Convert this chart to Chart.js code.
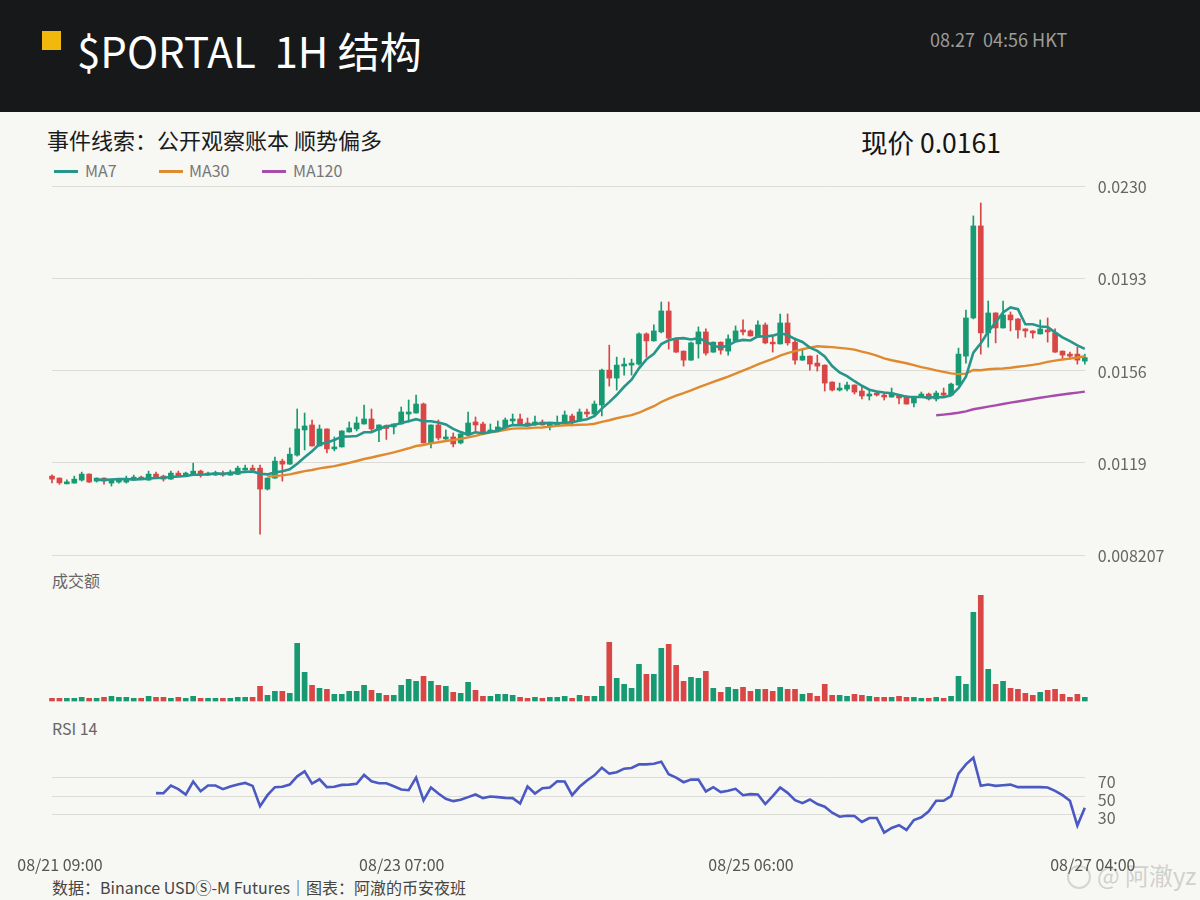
<!DOCTYPE html>
<html lang="zh-CN">
<head>
<meta charset="utf-8">
<title>$PORTAL 1H 结构</title>
<script src="https://cdn.jsdelivr.net/npm/chart.js@4.4.1/dist/chart.umd.min.js"></script>
<style>
  html, body { margin: 0; padding: 0; }
  body {
    width: 1200px; height: 900px; position: relative; overflow: hidden;
    background: #f7f7f3;
    font-family: "Noto Sans CJK SC", "Noto Sans", sans-serif;
  }
  .abs { position: absolute; line-height: 1; white-space: pre; }
  #header { left: 0; top: 0; width: 1200px; height: 112px; background: #161819; }
  #mark { left: 42px; top: 31px; width: 19px; height: 19px; background: #f0b90b; }
  #title { left: 77px; top: 29px; font-size: 42px; color: #ffffff; }
  #stamp { left: 930px; top: 30px; font-size: 18px; color: #9c9c9c; }
  #subtitle { left: 47px; top: 128px; font-size: 22px; color: #1b1b1b; }
  #price { left: 861px; top: 129px; font-size: 26.5px; color: #141414; }
  .sw { position: absolute; top: 170px; width: 24px; height: 3px; }
  .lg { top: 162px; font-size: 16px; color: #777; }
  #volLabel { left: 52px; top: 572px; font-size: 16px; color: #666; }
  #rsiLabel { left: 52px; top: 720px; font-size: 16px; color: #666; }
  #footer { left: 52px; top: 879px; font-size: 16px; color: #444; }
  #wm { left: 1097px; top: 863px; font-size: 24px; color: rgba(170,170,170,0.5); }
  #wmIcon { position: absolute; left: 1067px; top: 865px; width: 20px; height: 20px; border: 2px solid rgba(170,170,170,0.45); border-radius: 50%; }
  canvas { position: absolute; left: 0; }
</style>
</head>
<body>
<div id="header" class="abs"></div>
<div id="mark" class="abs"></div>
<div id="title" class="abs">$PORTAL  1H 结构</div>
<div id="stamp" class="abs">08.27  04:56 HKT</div>
<div id="subtitle" class="abs">事件线索：公开观察账本 顺势偏多</div>
<div id="price" class="abs">现价 0.0161</div>

<div class="sw" style="left:54px;background:#26968a"></div>
<div class="abs lg" style="left:85px">MA7</div>
<div class="sw" style="left:159px;background:#e08a2f"></div>
<div class="abs lg" style="left:189px">MA30</div>
<div class="sw" style="left:262px;background:#a64dab"></div>
<div class="abs lg" style="left:293px">MA120</div>

<div id="volLabel" class="abs">成交额</div>
<div id="rsiLabel" class="abs">RSI 14</div>
<div id="footer" class="abs">数据：Binance USDⓈ-M Futures｜图表：阿澈的币安夜班</div>
<div id="wmIcon"></div>
<div id="wm" class="abs">@ 阿澈yz</div>

<canvas id="priceChart" width="1200" height="390" style="top:176px;width:1200px;height:390px"></canvas>
<canvas id="volChart" width="1200" height="120" style="top:585px;width:1200px;height:120px"></canvas>
<canvas id="rsiChart" width="1200" height="140" style="top:740px;width:1200px;height:140px"></canvas>

<script>
// hourly candles, 08/21 09:00 -> 08/27 04:00
const hours = [];
for (let i = 0; i < 140; i++) {
    const h = 9 + i;
    hours.push('08/' + (21 + Math.floor(h / 24)) + ' ' + String(h % 24).padStart(2, '0') + ':00');
}
const xTickLabels = ['08/21 09:00', '08/23 07:00', '08/25 06:00', '08/27 04:00'];

const opens = [
    0.01137, 0.01129, 0.01106, 0.01109, 0.01121, 0.01145, 0.01117, 0.01129, 0.01109, 0.01113,
    0.01113, 0.01121, 0.01133, 0.01121, 0.01145, 0.01137, 0.01125, 0.01149, 0.01137, 0.01145,
    0.01157, 0.01141, 0.01141, 0.01149, 0.01141, 0.01144, 0.01161, 0.01169, 0.01169, 0.01085,
    0.01129, 0.01197, 0.01185, 0.01221, 0.01322, 0.01342, 0.01258, 0.01326, 0.01246, 0.01254,
    0.01314, 0.01326, 0.01346, 0.01366, 0.01322, 0.01340, 0.01334, 0.01346, 0.01386, 0.01390,
    0.01426, 0.01270, 0.01342, 0.01286, 0.01294, 0.01270, 0.01302, 0.01354, 0.01346, 0.01314,
    0.01322, 0.01330, 0.01358, 0.01366, 0.01350, 0.01342, 0.01354, 0.01334, 0.01342, 0.01350,
    0.01378, 0.01358, 0.01394, 0.01386, 0.01422, 0.01562, 0.01530, 0.01578, 0.01582, 0.01586,
    0.01707, 0.01679, 0.01715, 0.01799, 0.01683, 0.01638, 0.01602, 0.01667, 0.01715, 0.01634,
    0.01674, 0.01638, 0.01679, 0.01723, 0.01719, 0.01694, 0.01743, 0.01674, 0.01667, 0.01751,
    0.01674, 0.01602, 0.01618, 0.01590, 0.01582, 0.01514, 0.01482, 0.01486, 0.01502, 0.01478,
    0.01458, 0.01470, 0.01462, 0.01454, 0.01462, 0.01458, 0.01430, 0.01454, 0.01466, 0.01446,
    0.01470, 0.01462, 0.01502, 0.01618, 0.01771, 0.02140, 0.01711, 0.01791, 0.01731, 0.01783,
    0.01767, 0.01727, 0.01719, 0.01707, 0.01723, 0.01711, 0.01638, 0.01626, 0.01626, 0.01598
];
const highs = [
    0.01142, 0.01130, 0.01122, 0.01137, 0.01153, 0.01146, 0.01130, 0.01130, 0.01122, 0.01126,
    0.01137, 0.01141, 0.01137, 0.01157, 0.01153, 0.01141, 0.01157, 0.01157, 0.01153, 0.01189,
    0.01161, 0.01153, 0.01157, 0.01157, 0.01161, 0.01177, 0.01181, 0.01181, 0.01181, 0.01130,
    0.01213, 0.01205, 0.01250, 0.01406, 0.01390, 0.01362, 0.01342, 0.01327, 0.01294, 0.01319,
    0.01354, 0.01374, 0.01422, 0.01406, 0.01343, 0.01342, 0.01347, 0.01414, 0.01442, 0.01462,
    0.01430, 0.01343, 0.01362, 0.01322, 0.01310, 0.01307, 0.01394, 0.01374, 0.01354, 0.01346,
    0.01358, 0.01370, 0.01386, 0.01386, 0.01370, 0.01378, 0.01362, 0.01347, 0.01378, 0.01398,
    0.01386, 0.01406, 0.01406, 0.01438, 0.01566, 0.01662, 0.01614, 0.01610, 0.01606, 0.01711,
    0.01711, 0.01743, 0.01835, 0.01835, 0.01690, 0.01639, 0.01674, 0.01735, 0.01727, 0.01675,
    0.01675, 0.01703, 0.01739, 0.01763, 0.01723, 0.01759, 0.01751, 0.01703, 0.01787, 0.01787,
    0.01690, 0.01642, 0.01619, 0.01622, 0.01583, 0.01515, 0.01510, 0.01514, 0.01503, 0.01494,
    0.01486, 0.01478, 0.01470, 0.01490, 0.01463, 0.01459, 0.01451, 0.01474, 0.01470, 0.01478,
    0.01490, 0.01510, 0.01650, 0.01803, 0.02180, 0.02232, 0.01839, 0.01792, 0.01839, 0.01795,
    0.01768, 0.01728, 0.01720, 0.01763, 0.01771, 0.01727, 0.01639, 0.01634, 0.01654, 0.01626
];
const lows = [
    0.01110, 0.01104, 0.01106, 0.01109, 0.01117, 0.01112, 0.01113, 0.01105, 0.01097, 0.01109,
    0.01109, 0.01120, 0.01124, 0.01120, 0.01129, 0.01117, 0.01124, 0.01136, 0.01136, 0.01144,
    0.01133, 0.01140, 0.01140, 0.01137, 0.01140, 0.01143, 0.01160, 0.01153, 0.00904, 0.01081,
    0.01128, 0.01117, 0.01184, 0.01217, 0.01242, 0.01257, 0.01257, 0.01230, 0.01238, 0.01253,
    0.01313, 0.01318, 0.01345, 0.01318, 0.01275, 0.01284, 0.01306, 0.01345, 0.01354, 0.01389,
    0.01269, 0.01250, 0.01282, 0.01278, 0.01254, 0.01266, 0.01301, 0.01314, 0.01313, 0.01313,
    0.01321, 0.01329, 0.01342, 0.01345, 0.01337, 0.01341, 0.01341, 0.01322, 0.01338, 0.01349,
    0.01338, 0.01357, 0.01374, 0.01382, 0.01378, 0.01498, 0.01482, 0.01542, 0.01542, 0.01582,
    0.01614, 0.01678, 0.01711, 0.01646, 0.01633, 0.01578, 0.01601, 0.01610, 0.01622, 0.01633,
    0.01626, 0.01622, 0.01678, 0.01703, 0.01698, 0.01693, 0.01667, 0.01634, 0.01666, 0.01662,
    0.01586, 0.01601, 0.01562, 0.01558, 0.01478, 0.01478, 0.01478, 0.01478, 0.01466, 0.01446,
    0.01442, 0.01458, 0.01442, 0.01453, 0.01426, 0.01425, 0.01414, 0.01453, 0.01442, 0.01438,
    0.01458, 0.01461, 0.01501, 0.01590, 0.01767, 0.01626, 0.01654, 0.01671, 0.01730, 0.01719,
    0.01690, 0.01694, 0.01690, 0.01706, 0.01674, 0.01633, 0.01606, 0.01606, 0.01586, 0.01586
];
const closes = [
    0.01125, 0.01110, 0.01114, 0.01125, 0.01145, 0.01113, 0.01129, 0.01117, 0.01121, 0.01125,
    0.01125, 0.01133, 0.01125, 0.01145, 0.01133, 0.01125, 0.01149, 0.01137, 0.01149, 0.01157,
    0.01145, 0.01149, 0.01149, 0.01141, 0.01153, 0.01169, 0.01169, 0.01161, 0.01085, 0.01129,
    0.01197, 0.01185, 0.01225, 0.01326, 0.01338, 0.01258, 0.01326, 0.01246, 0.01254, 0.01318,
    0.01330, 0.01350, 0.01366, 0.01326, 0.01342, 0.01328, 0.01346, 0.01394, 0.01394, 0.01426,
    0.01270, 0.01342, 0.01290, 0.01294, 0.01266, 0.01306, 0.01350, 0.01342, 0.01314, 0.01322,
    0.01334, 0.01362, 0.01366, 0.01346, 0.01338, 0.01354, 0.01342, 0.01346, 0.01350, 0.01382,
    0.01354, 0.01394, 0.01386, 0.01426, 0.01562, 0.01530, 0.01582, 0.01586, 0.01590, 0.01707,
    0.01679, 0.01719, 0.01799, 0.01690, 0.01634, 0.01602, 0.01671, 0.01715, 0.01630, 0.01674,
    0.01642, 0.01687, 0.01719, 0.01715, 0.01699, 0.01743, 0.01671, 0.01667, 0.01751, 0.01671,
    0.01602, 0.01618, 0.01586, 0.01578, 0.01510, 0.01482, 0.01490, 0.01502, 0.01474, 0.01458,
    0.01466, 0.01462, 0.01454, 0.01470, 0.01450, 0.01426, 0.01450, 0.01466, 0.01446, 0.01470,
    0.01462, 0.01506, 0.01626, 0.01771, 0.02140, 0.01711, 0.01791, 0.01731, 0.01783, 0.01763,
    0.01723, 0.01719, 0.01711, 0.01727, 0.01715, 0.01634, 0.01622, 0.01618, 0.01602, 0.01612
];
// 成交额 (relative units)
const turnover = [
    27, 27, 27, 27, 37, 27, 27, 37, 47, 37,
    37, 27, 27, 47, 37, 37, 27, 37, 27, 47,
    27, 27, 27, 27, 27, 37, 37, 37, 147, 57,
    97, 97, 77, 577, 287, 157, 127, 117, 67, 67,
    97, 97, 157, 107, 77, 57, 57, 157, 217, 197,
    247, 197, 157, 147, 87, 77, 187, 107, 47, 47,
    67, 67, 57, 37, 27, 37, 27, 37, 37, 47,
    27, 57, 47, 47, 147, 587, 227, 167, 127, 367,
    267, 267, 527, 567, 357, 197, 237, 227, 297, 127,
    87, 137, 117, 137, 97, 117, 117, 97, 137, 117,
    117, 67, 77, 47, 167, 57, 57, 47, 67, 57,
    47, 37, 37, 37, 47, 37, 37, 27, 27, 37,
    27, 47, 247, 167, 887, 1057, 317, 167, 197, 127,
    117, 77, 57, 87, 107, 117, 67, 37, 67, 37
];
const rsi14 = [
    null, null, null, null, null, null, null, null, null, null,
    null, null, null, null, 53.1, 53.0, 61.4, 57.4, 51.6, 65.7,
    55.2, 61.4, 61.4, 57.4, 60.3, 62.4, 64.2, 61.0, 39.0, 50.9,
    59.6, 60.0, 62.4, 71.4, 76.8, 63.5, 68.2, 59.6, 60.0, 62.1,
    62.4, 63.2, 72.9, 66.0, 63.9, 63.9, 60.6, 57.0, 56.3, 70.0,
    45.2, 59.2, 52.7, 47.0, 44.4, 45.9, 48.8, 51.6, 47.7, 49.5,
    48.8, 48.0, 47.7, 41.9, 60.3, 52.7, 58.5, 59.2, 66.0, 65.7,
    50.9, 60.0, 66.8, 72.5, 80.8, 74.3, 75.8, 79.7, 80.4, 84.4,
    84.4, 85.1, 87.3, 73.6, 70.0, 65.0, 67.8, 67.8, 54.9, 59.6,
    54.2, 55.6, 57.8, 50.9, 52.0, 51.6, 41.2, 49.8, 59.2, 53.4,
    45.5, 42.3, 46.2, 41.2, 38.3, 31.8, 27.5, 28.6, 28.2, 21.8,
    26.1, 26.1, 10.2, 15.3, 18.2, 13.1, 23.9, 26.8, 33.3, 44.8,
    44.8, 49.8, 74.3, 84.4, 91.6, 61.0, 62.4, 61.0, 61.7, 62.4,
    59.6, 59.6, 59.6, 59.6, 59.2, 55.6, 50.9, 44.8, 17.8, 37.2
];

const priceTicks = [0.008207, 0.011905, 0.015604, 0.019302, 0.0230];
const priceTickLabels = ['0.008207', '0.0119', '0.0156', '0.0193', '0.0230'];
const rsiTicks = [30, 50, 70];

const UP = '#179a72';
const DOWN = '#d94646';
const GRID = '#dcdcd6';
const AXIS_W = 115.2;

Chart.defaults.font.family = '"Noto Sans CJK SC", "Noto Sans", sans-serif';
Chart.defaults.animation = false;

// moving average of closes, null until the window is full
function sma(values, n) {
    return values.map((_, i) => {
        if (i < n - 1) return null;
        let s = 0;
        for (let k = i - n + 1; k <= i; k++) s += values[k];
        return s / n;
    });
}

// keep the plot areas exactly where the layout padding puts them
function fixWidth(s) {
    s.width = AXIS_W;
    s.paddingTop = 0;
    s.paddingBottom = 0;
}

const candleColors = closes.map((c, i) => (c >= opens[i] ? UP : DOWN));

const baseX = { display: false, offset: false, grid: { display: false } };

// price panel
new Chart(document.getElementById('priceChart'), {
    type: 'bar',
    data: {
        labels: hours,
        datasets: [
            { type: 'line', label: 'MA7', data: sma(closes, 7), borderColor: '#26968a', borderWidth: 2.6, pointRadius: 0, order: 0, clip: false },
            { type: 'line', label: 'MA30', data: sma(closes, 30), borderColor: '#e08a2f', borderWidth: 2.4, pointRadius: 0, order: 0, clip: false },
            { type: 'line', label: 'MA120', data: sma(closes, 120), borderColor: '#a64dab', borderWidth: 2.4, pointRadius: 0, order: 0, clip: false },
            { label: 'body', data: opens.map((o, i) => [o, closes[i]]), backgroundColor: candleColors, barThickness: 5, grouped: false, order: 1, clip: false },
            { label: 'wick', data: lows.map((l, i) => [l, highs[i]]), backgroundColor: candleColors, barThickness: 1, grouped: false, order: 2, clip: false }
        ]
    },
    options: {
        responsive: false,
        layout: { padding: { left: 52, right: 0, top: 10, bottom: 11 } },
        plugins: { legend: { display: false }, tooltip: { enabled: false } },
        scales: {
            x: baseX,
            y: {
                position: 'right',
                min: 0.008207,
                max: 0.0230,
                afterBuildTicks: (s) => { s.ticks = priceTicks.map(v => ({ value: v })); },
                afterFit: fixWidth,
                ticks: {
                    callback: (v, i) => priceTickLabels[i],
                    padding: 13,
                    labelOffset: 1,
                    color: '#666',
                    font: { size: 16 }
                },
                grid: { color: GRID, lineWidth: 1, drawTicks: false },
                border: { display: false }
            }
        }
    }
});

// turnover panel
new Chart(document.getElementById('volChart'), {
    type: 'bar',
    data: {
        labels: hours,
        datasets: [
            { label: '成交额', data: turnover, backgroundColor: candleColors, barThickness: 5, clip: false }
        ]
    },
    options: {
        responsive: false,
        layout: { padding: { left: 52, right: 0, top: 10, bottom: 4 } },
        plugins: { legend: { display: false }, tooltip: { enabled: false } },
        scales: {
            x: baseX,
            y: {
                position: 'right',
                min: 0,
                max: 1060,
                afterFit: fixWidth,
                ticks: { display: false },
                grid: { display: false },
                border: { display: false }
            }
        }
    }
});

// RSI panel with the shared time axis
new Chart(document.getElementById('rsiChart'), {
    type: 'line',
    data: {
        labels: hours,
        datasets: [
            { label: 'RSI 14', data: rsi14, borderColor: '#4b59c2', borderWidth: 2.6, pointRadius: 0, spanGaps: false, clip: false }
        ]
    },
    options: {
        responsive: false,
        layout: { padding: { left: 52, right: 0, top: 10, bottom: 0 } },
        plugins: { legend: { display: false }, tooltip: { enabled: false } },
        scales: {
            x: {
                offset: false,
                afterFit: (s) => { s.height = 38; s.paddingLeft = 0; s.paddingRight = 0; },
                ticks: {
                    autoSkip: false,
                    maxRotation: 0,
                    padding: 13,
                    labelOffset: 8,
                    color: '#555',
                    font: { size: 16 },
                    callback: function (v) {
                        const lab = this.getLabelForValue(v);
                        return xTickLabels.includes(lab) ? lab : '';
                    }
                },
                grid: { display: false, drawTicks: false },
                border: { display: false }
            },
            y: {
                position: 'right',
                min: 0,
                max: 100,
                afterBuildTicks: (s) => { s.ticks = rsiTicks.map(v => ({ value: v })); },
                afterFit: fixWidth,
                ticks: { padding: 13, labelOffset: 4, color: '#666', font: { size: 16 } },
                grid: { color: GRID, lineWidth: 1, drawTicks: false },
                border: { display: false }
            }
        }
    }
});
</script>
</body>
</html>
